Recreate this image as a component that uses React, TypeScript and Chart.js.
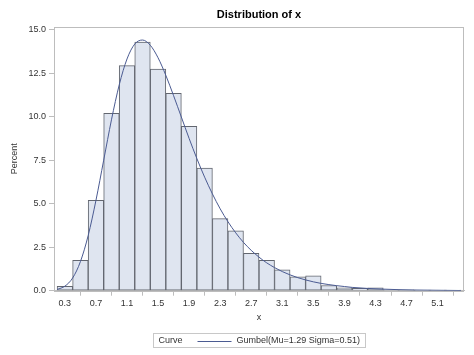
import React, { useEffect, useRef } from "react";
import { Chart, registerables } from "chart.js";

Chart.register(...registerables);

// Histogram bins (midpoints) and percent heights
const BIN_MIDPOINTS = [0.3, 0.5, 0.7, 0.9, 1.1, 1.3, 1.5, 1.7, 1.9, 2.1, 2.3, 2.5, 2.7, 2.9, 3.1, 3.3, 3.5, 3.7, 3.9, 4.1, 4.3, 4.5, 4.7, 4.9, 5.1, 5.3];
const PERCENT = [0.25, 1.75, 5.2, 10.2, 12.95, 14.3, 12.75, 11.35, 9.45, 7.05, 4.15, 3.45, 2.15, 1.75, 1.2, 0.8, 0.85, 0.3, 0.17, 0.13, 0.17, 0.06, 0.05, 0.04, 0.03, 0.03];

// Fitted Gumbel curve
const CURVE_X = [0.2, 0.3, 0.4, 0.5, 0.6, 0.7, 0.8, 0.9, 1.0, 1.1, 1.2, 1.3, 1.4, 1.5, 1.6, 1.7, 1.8, 1.9, 2.0, 2.1, 2.2, 2.3, 2.4, 2.5, 2.6, 2.7, 2.8, 2.9, 3.0, 3.1, 3.2, 3.3, 3.4, 3.5, 3.6, 3.7, 3.8, 3.9, 4.0, 4.2, 4.4, 4.6, 4.8, 5.0, 5.2, 5.4];
const CURVE_Y = [0.07, 0.26, 0.73, 1.67, 3.17, 5.19, 7.51, 9.83, 11.84, 13.33, 14.19, 14.42, 14.12, 13.4, 12.39, 11.22, 9.99, 8.76, 7.6, 6.53, 5.57, 4.71, 3.97, 3.33, 2.78, 2.32, 1.93, 1.6, 1.33, 1.1, 0.91, 0.75, 0.62, 0.51, 0.42, 0.35, 0.29, 0.24, 0.19, 0.13, 0.09, 0.06, 0.04, 0.03, 0.02, 0.01];

const X_TICKS = [0.3, 0.7, 1.1, 1.5, 1.9, 2.3, 2.7, 3.1, 3.5, 3.9, 4.3, 4.7, 5.1];
const Y_TICKS = [0, 2.5, 5, 7.5, 10, 12.5, 15];

const TITLE = "Distribution of x";
const X_TITLE = "x";
const Y_TITLE = "Percent";
const LEGEND_TITLE = "Curve";
const CURVE_LABEL = "Gumbel(Mu=1.29 Sigma=0.51)";

const FONT = "'Liberation Sans', Arial, sans-serif";
const CURVE_COLOR = "#4b5b92";
const FRAME_COLOR = "#bdbdbd";
const TEXT_COLOR = "#333333";

const framePlugin = {
  id: "frameAndLegend",
  afterDatasetsDraw(chart: any) {
    const { ctx, chartArea } = chart;
    ctx.save();
    ctx.strokeStyle = FRAME_COLOR;
    ctx.lineWidth = 1;
    ctx.strokeRect(
      Math.round(chartArea.left) + 0.5,
      Math.round(chartArea.top) + 0.5,
      Math.round(chartArea.right - chartArea.left) - 1,
      Math.round(chartArea.bottom - chartArea.top)
    );
    ctx.restore();
  },
  afterDraw(chart: any) {
    const { ctx, chartArea } = chart;
    const cx = (chartArea.left + chartArea.right) / 2;
    const boxW = 212;
    const left = Math.round(cx - boxW / 2) + 0.5;
    const top = 333.5;
    const h = 14;
    const midY = top + h / 2;
    ctx.save();
    ctx.strokeStyle = "#c8c8c8";
    ctx.lineWidth = 1;
    ctx.strokeRect(left, top, boxW, h);
    ctx.font = `9px ${FONT}`;
    ctx.fillStyle = TEXT_COLOR;
    ctx.textBaseline = "middle";
    ctx.textAlign = "left";
    ctx.fillText(LEGEND_TITLE, left + 5, midY + 0.5);
    ctx.strokeStyle = CURVE_COLOR;
    ctx.beginPath();
    ctx.moveTo(left + 44, Math.round(midY) + 0.5);
    ctx.lineTo(left + 78, Math.round(midY) + 0.5);
    ctx.stroke();
    ctx.fillText(CURVE_LABEL, left + 83, midY + 0.5);
    ctx.restore();
  },
};

export default function App() {
  const ref = useRef<HTMLCanvasElement | null>(null);

  useEffect(() => {
    if (!ref.current) return;
    const chart = new Chart(ref.current, {
      type: "bar",
      data: {
        datasets: [
          {
            type: "line",
            label: CURVE_LABEL,
            data: CURVE_X.map((x, i) => ({ x, y: CURVE_Y[i] })),
            borderColor: CURVE_COLOR,
            borderWidth: 1,
            pointRadius: 0,
            fill: false,
            cubicInterpolationMode: "monotone",
            order: 0,
          } as any,
          {
            type: "bar",
            label: "Percent",
            data: BIN_MIDPOINTS.map((x, i) => ({ x, y: PERCENT[i] })),
            backgroundColor: "#dfe5f0",
            borderColor: "#62666f",
            borderWidth: 1,
            borderSkipped: false,
            barPercentage: 1,
            categoryPercentage: 1,
            order: 1,
          } as any,
        ],
      },
      options: {
        animation: false,
        responsive: false,
        layout: { padding: { left: 0, right: 10, top: 0, bottom: 31.6 } },
        plugins: {
          legend: { display: false },
          tooltip: { enabled: false },
          title: {
            display: true,
            text: TITLE,
            fullSize: false,
            color: "#000000",
            font: { family: FONT, size: 11, weight: "bold", lineHeight: 1.2 },
            padding: { top: 8, bottom: 5.8 },
          },
        },
        scales: {
          x: {
            type: "linear",
            min: 0.16,
            max: 5.44,
            offset: false,
            afterBuildTicks: (s: any) => {
              s.ticks = X_TICKS.map((v) => ({ value: v }));
            },
            afterFit: (s: any) => {
              s.height = 32.7;
            },
            ticks: {
              autoSkip: false,
              maxRotation: 0,
              padding: 2,
              color: TEXT_COLOR,
              font: { family: FONT, size: 9 },
              callback: (v: any) => Number(v).toFixed(1),
            },
            grid: {
              drawOnChartArea: false,
              drawTicks: true,
              tickLength: 5,
              color: FRAME_COLOR,
            },
            border: { display: true, color: FRAME_COLOR },
            title: {
              display: true,
              text: X_TITLE,
              color: TEXT_COLOR,
              font: { family: FONT, size: 9 },
              padding: { top: 2, bottom: 0 },
            },
          },
          y: {
            type: "linear",
            min: 0,
            max: 15.17,
            afterBuildTicks: (s: any) => {
              s.ticks = Y_TICKS.map((v) => ({ value: v }));
            },
            afterFit: (s: any) => {
              s.width = 54;
            },
            ticks: {
              padding: 3,
              color: TEXT_COLOR,
              font: { family: FONT, size: 9 },
              callback: (v: any) => Number(v).toFixed(1),
            },
            grid: {
              drawOnChartArea: false,
              drawTicks: true,
              tickLength: 5,
              color: FRAME_COLOR,
            },
            border: { display: true, color: FRAME_COLOR },
            title: {
              display: true,
              text: Y_TITLE,
              color: TEXT_COLOR,
              font: { family: FONT, size: 9 },
              padding: { top: 9, bottom: 0 },
            },
          },
        },
      },
      plugins: [framePlugin],
    });
    return () => chart.destroy();
  }, []);

  return (
    <div style={{ position: "absolute", left: 0, top: 0, width: 474, height: 355, background: "#ffffff" }}>
      <canvas ref={ref} width={474} height={355} style={{ display: "block", width: 474, height: 355 }} />
    </div>
  );
}
